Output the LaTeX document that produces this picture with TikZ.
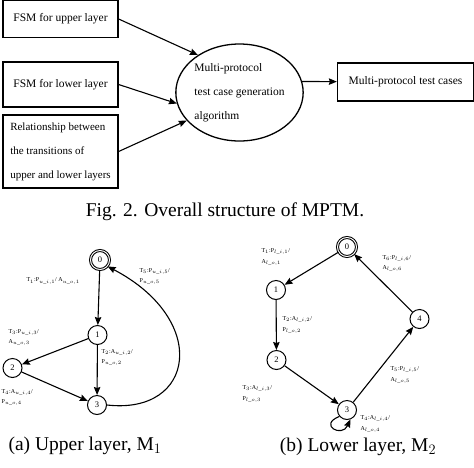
\documentclass[tikz,border=0pt]{standalone}
\usepackage{fontspec}
\setmainfont{Liberation Serif}
\usetikzlibrary{shapes.geometric, arrows.meta}

\tikzset{
	box/.style={draw, line width=1.3pt, inner sep=0pt, font=\fontsize{11.5}{24}\selectfont},
	state/.style={draw, circle, line width=1pt, minimum size=19pt, inner sep=0pt, font=\fontsize{8.5}{9}\selectfont},
	lbl/.style={anchor=west, align=left, inner sep=0pt, font=\fontsize{6}{10.5}\selectfont},
	figcap/.style={inner sep=0pt, font=\fontsize{19.5}{20}\selectfont},
	arr/.style={-{Stealth[length=8pt, width=6.5pt, inset=1pt]}}
}

\begin{document}
\begin{tikzpicture}[x=1pt, y=-1pt, line width=1.1pt]
	\useasboundingbox (0,0) rectangle (474,467);
	% overall structure
	\node[box, minimum width=115pt, minimum height=37pt] (upper) at (60.5,19) {FSM for upper layer};
	\node[box, minimum width=115pt, minimum height=45pt] (lower) at (60.5,84.5) {FSM for lower layer};
	\node[box, minimum width=115pt, minimum height=73pt, align=left, font=\fontsize{11}{24}\selectfont] (rel) at (60.5,151.5) {Relationship between\\the transitions of\\upper and lower layers};
	\node[box, ellipse, minimum width=93pt, minimum height=97pt, align=left] (alg) at (239.5,92.5) {Multi-protocol\\test case generation\\algorithm};
	\node[box, minimum width=136pt, minimum height=38pt] (out) at (405.5,82) {Multi-protocol test cases};
	\draw [arr](upper.east) -- (alg.138);
	\draw [arr](lower.east) -- (alg.190);
	\draw [arr](rel.east) -- (alg.208);
	\draw [arr](alg.10) -- (out);
	\node[figcap] (fig) at (225,212) {Fig. 2. Overall structure of MPTM.};

	% upper layer M1
	\node[state, double, double distance=1pt] (u0) at (100,260) {0};
	\node[state] (u1) at (97.5,335) {1};
	\node[state] (u2) at (12.5,368) {2};
	\node[state] (u3) at (97,405) {3};
	\draw [arr](u0) -- (u1);
	\draw [arr](u1) -- (u2);
	\draw [arr](u1) -- (u3);
	\draw [arr](u2) -- (u3);
	\draw [arr](u3.east) .. controls (195,415) and (210,320) .. (u0.-40);
	\node[lbl] (t1u) at (26,281) {T$_1$:P$_{u\_i,1}$/ A$_{u\_o,1}$};
	\node[lbl] (t3u) at (8,337.5) {T$_3$:P$_{u\_i,3}$/\\A$_{u\_o,3}$};
	\node[lbl] (t2u) at (101,357.5) {T$_2$:A$_{u\_i,2}$/\\P$_{u\_o,2}$};
	\node[lbl] (t4u) at (1,397.5) {T$_4$:A$_{u\_i,4}$/\\P$_{u\_o,4}$};
	\node[lbl] (t5u) at (139,276.5) {T$_5$:P$_{u\_i,5}$/\\P$_{u\_o,5}$};
	\node[figcap] (capa) at (85,446) {(a) Upper layer, M$_1$};

	% lower layer M2
	\node[state, double, double distance=1pt] (l0) at (347,247) {0};
	\node[state] (l1) at (276,290) {1};
	\node[state] (l2) at (276.5,360) {2};
	\node[state] (l3) at (347,410) {3};
	\node[state] (l4) at (419.5,319) {4};
	\draw [arr](l0) -- (l1);
	\draw [arr](l1) -- (l2);
	\draw [arr](l2) -- (l3);
	\draw [arr](l3) -- (l4);
	\draw [arr](l4) -- (l0);
	\draw [arr](l3.220) .. controls (318,425) and (342,438) .. (l3.-70);
	\node[lbl] (t1l) at (261,257) {T$_1$:P$_{l\_i,1}$/\\A$_{l\_o,1}$};
	\node[lbl] (t2l) at (282,325) {T$_2$:A$_{l\_i,2}$/\\P$_{l\_o,2}$};
	\node[lbl] (t3l) at (242,394) {T$_3$:A$_{l\_i,3}$/\\P$_{l\_o,3}$};
	\node[lbl] (t4l) at (360,424) {T$_4$:A$_{l\_i,4}$/\\A$_{l\_o,4}$};
	\node[lbl] (t5l) at (390,375) {T$_5$:P$_{l\_i,5}$/\\A$_{l\_o,5}$};
	\node[lbl] (t6l) at (382,263.5) {T$_6$:P$_{l\_i,6}$/\\A$_{l\_o,6}$};
	\node[figcap] (capb) at (358,447) {(b) Lower layer, M$_2$};
\end{tikzpicture}
\end{document}
